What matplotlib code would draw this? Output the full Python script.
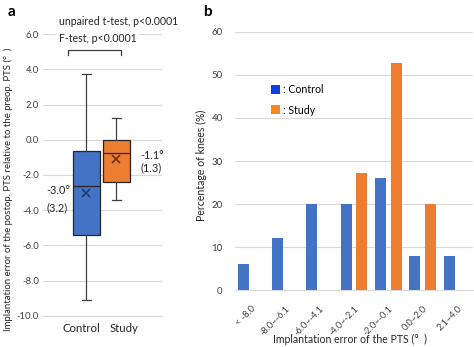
import numpy as np
import matplotlib.pyplot as plt
from matplotlib.patches import Patch

plt.rcParams['font.family'] = ['Lato', 'DejaVu Sans']

# box plot summary (a)
groups = ['Control', 'Study']
q1 = [-5.4, -2.4]
med = [-2.65, -0.75]
q3 = [-0.65, 0.0]
whislo = [-9.1, -3.45]
whishi = [3.75, 1.25]
means = [-3.0, -1.1]
sds = [3.2, 1.3]

# histogram (b)
bins = ['< -8.0', '-8.0~-6.1', '-6.0~-4.1', '-4.0~-2.1', '-2.0~-0.1', '0.0~2.0', '2.1~4.0']
control_pct = [6, 12, 20, 20, 26, 8, 8]
study_pct = [0, 0, 0, 27.3, 52.7, 20, 0]

blue = '#4472C4'
orange = '#ED7D31'
grid_c = '#D9D9D9'
tick_c = '#404040'
txt_c = '#262626'

fig = plt.figure(figsize=(4.74, 3.47), dpi=100)

# ---- panel a ----
ax1 = fig.add_axes((0.0907, 0.0902, 0.251, 0.811))
stats = []
for i in range(2):
    stats.append(dict(q1=q1[i], med=med[i], q3=q3[i], whislo=whislo[i],
                      whishi=whishi[i], mean=means[i], label=groups[i]))
bp = ax1.bxp(stats, positions=[1, 2], widths=0.9, showmeans=True,
             patch_artist=True, showfliers=False,
             boxprops=dict(edgecolor=txt_c, linewidth=0.9),
             medianprops=dict(color=txt_c, linewidth=0.9),
             whiskerprops=dict(color=tick_c, linewidth=0.9),
             capprops=dict(color=tick_c, linewidth=0.9),
             capwidths=0.3,
             meanprops=dict(marker='x', markersize=6, markeredgewidth=1.1))
for box, c in zip(bp['boxes'], [blue, orange]):
    box.set_facecolor(c)
for m, c in zip(bp['means'], ['#1F3864', '#5E2A08']):
    m.set_markeredgecolor(c)

ax1.set_xlim(-0.433, 3.53)
ax1.set_ylim(-10, 6)
yt = np.arange(-10, 6.1, 2)
ax1.set_yticks(yt)
ax1.set_yticklabels(['%.1f' % v for v in yt])
ax1.set_xticks([0.83, 2.27])
ax1.set_xticklabels(groups)
ax1.yaxis.grid(True, color=grid_c, linewidth=0.8)
ax1.set_axisbelow(True)
for s in ['top', 'right', 'left']:
    ax1.spines[s].set_visible(False)
ax1.spines['bottom'].set_color(grid_c)
ax1.tick_params(axis='both', length=0, colors=tick_c, labelsize=6.8)
ax1.tick_params(axis='y', pad=3)
ax1.tick_params(axis='x', pad=5, labelsize=8.2, labelcolor=txt_c)
ax1.set_ylabel('Implantation error of the postop. PTS relative to the preop. PTS (°  )',
               fontsize=6.9, color=txt_c)
ax1.yaxis.set_label_coords(-0.25, 0.45)

# mean (SD) labels
ax1.text(-0.33, -2.9, '%.1f°' % means[0], fontsize=7.8, va='center', color=txt_c)
ax1.text(-0.33, -3.85, '(%.1f)' % sds[0], fontsize=7.8, va='center', color=txt_c)
ax1.text(2.80, -0.9, '%.1f°' % means[1], fontsize=7.8, va='center', color=txt_c)
ax1.text(2.80, -1.6, '(%.1f)' % sds[1], fontsize=7.8, va='center', color=txt_c)

# significance bracket
ax1.plot([0.4, 0.4, 2.17, 2.17], [4.8, 5.13, 5.13, 4.8], color=tick_c,
         linewidth=0.9, clip_on=False)
ax1.text(0.1, 6.75, 'unpaired t-test, p<0.0001', fontsize=7.6, va='center',
         color=txt_c, clip_on=False)
ax1.text(0.1, 5.75, 'F-test, p<0.0001', fontsize=7.6, va='center', color=txt_c,
         bbox=dict(facecolor='white', edgecolor='none', pad=1.5), clip_on=False)

# ---- panel b ----
ax2 = fig.add_axes((0.496, 0.164, 0.502, 0.744))
x = np.arange(len(bins))
w = 0.32
ax2.bar(x - 0.23, control_pct, width=w, color=blue)
ax2.bar(x + 0.23, study_pct, width=w, color=orange)
ax2.set_xlim(-0.46, 6.46)
ax2.set_ylim(0, 60)
ax2.set_yticks(np.arange(0, 61, 10))
ax2.yaxis.grid(True, color=grid_c, linewidth=0.8)
ax2.set_axisbelow(True)
for s in ['top', 'right', 'left']:
    ax2.spines[s].set_visible(False)
ax2.spines['bottom'].set_color(grid_c)
ax2.tick_params(axis='both', length=0, colors=tick_c, labelsize=7)
ax2.tick_params(axis='y', pad=9)
ax2.set_xticks(x)
ax2.set_xticklabels(bins, rotation=45, ha='right', va='top', rotation_mode='anchor',
                    fontsize=6.7)
ax2.tick_params(axis='x', pad=10)
ax2.set_ylabel('Percentage of knees (%)', fontsize=7.6, color=txt_c)
ax2.yaxis.set_label_coords(-0.118, 0.485)
ax2.set_xlabel('Implantation error of the PTS (°  )', fontsize=7.6, color=txt_c)
ax2.xaxis.set_label_coords(0.483, -0.17)

handles = [Patch(facecolor='#1240E6', label=': Control'),
           Patch(facecolor='#F5891F', label=': Study')]
ax2.legend(handles=handles, loc='upper left', bbox_to_anchor=(0.11, 0.835),
           frameon=False, fontsize=7.6, handlelength=0.9, handleheight=0.9,
           handletextpad=0.3, labelspacing=0.9)

# panel letters
fig.text(0.017, 0.965, 'a', fontsize=11, fontweight='bold', va='center')
fig.text(0.428, 0.965, 'b', fontsize=11, fontweight='bold', va='center')

fig.savefig('out.png', dpi=100)
